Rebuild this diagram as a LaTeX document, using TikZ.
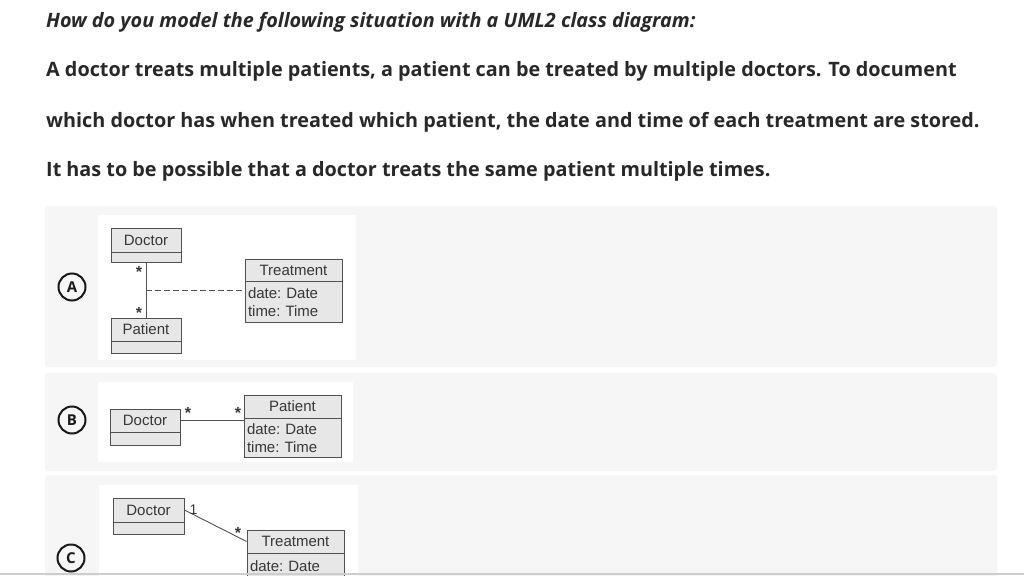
\documentclass[tikz,border=0pt]{standalone}
\usepackage{fontspec}
\setmainfont{Open Sans}
\newfontfamily\umlfont{Liberation Sans}
\usetikzlibrary{positioning,calc}
\definecolor{panelgrey}{RGB}{246,246,246}
\definecolor{rulegrey}{RGB}{205,205,205}
\definecolor{boxfill}{RGB}{231,231,231}
\definecolor{boxline}{RGB}{80,80,80}
\definecolor{textdark}{RGB}{40,40,40}
\definecolor{umltext}{RGB}{55,55,55}
\tikzstyle{question} = [anchor=base west, inner sep=0pt, font=\fontsize{19.8}{22}\selectfont\bfseries, text=textdark]
\tikzstyle{panel} = [fill=panelgrey, rounded corners=3pt]
\tikzstyle{sheet} = [fill=white]
\tikzstyle{classname} = [rectangle, draw=boxline, fill=boxfill, line width=0.9pt, inner sep=0pt, text=umltext, font=\umlfont\fontsize{15}{18}\selectfont\frenchspacing]
\tikzstyle{classattr} = [classname, inner sep=3pt, align=left]
\tikzstyle{option} = [circle, draw=black!90, line width=2pt, minimum size=27pt, inner sep=0pt, font=\fontsize{15}{15}\selectfont\bfseries, text=black!90]
\tikzstyle{mult} = [inner sep=0pt, text=umltext, font=\umlfont\bfseries\fontsize{16}{16}\selectfont]
\tikzstyle{assoc} = [draw=boxline, line width=0.9pt]

\begin{document}
\begin{tikzpicture}[x=1pt, y=-1pt]
\clip (0,0) rectangle (1024,575);
\fill[white] (0,0) rectangle (1024,575);

% Question text
\node[question, font=\fontsize{19.8}{22}\selectfont\bfseries\itshape] (q1) at (46,28) {How do you model the following situation with a UML2 class diagram:};
\node[question] (q2) at (46,77) {A doctor treats multiple patients, a patient can be treated by multiple doctors. To document};
\node[question] (q3) at (46,127) {which doctor has when treated which patient, the date and time of each treatment are stored.};
\node[question] (q4) at (46,176) {It has to be possible that a doctor treats the same patient multiple times.};

% Answer panels
\fill[panel] (45,206) rectangle (997,367);
\fill[panel] (45,373) rectangle (997,471);
\fill[panel] (45,475) rectangle (997,590);
\fill[sheet] (98,215) rectangle (356,360);
\fill[sheet] (98,382) rectangle (353,462);
\fill[sheet] (99,485) rectangle (358,590);

% Option A
\node[option] (optA) at (72,287) {A};
\node[classname, minimum width=70pt, minimum height=24pt] (docA) at (146,240) {Doctor};
\node[classname, minimum width=70pt, minimum height=10pt, below=0pt of docA] (docAattr) {};
\node[classname, minimum width=70pt, minimum height=23pt] (patA) at (146,329.5) {Patient};
\node[classname, minimum width=70pt, minimum height=12pt, below=0pt of patA] (patAattr) {};
\node[classname, minimum width=97pt, minimum height=22pt] (treatA) at (293.5,270) {Treatment};
\node[classattr, text width=91pt, minimum height=41pt, below=0pt of treatA] (treatAattr) {date: Date\\time: Time};
\draw[assoc] (docAattr.south) -- (patA.north);
\coordinate (midA) at ($(docAattr.south)!0.5!(patA.north)$);
\draw[assoc, dash pattern=on 6pt off 3pt] (midA) -- (midA -| treatAattr.west);
\node[mult] (mA1) at (139,272) {*};
\node[mult] (mA2) at (139,313) {*};

% Option B
\node[option] (optB) at (72,420) {B};
\node[classname, minimum width=70pt, minimum height=23pt] (docB) at (145,420.5) {Doctor};
\node[classname, minimum width=70pt, minimum height=13pt, below=0pt of docB] (docBattr) {};
\node[classname, minimum width=97pt, minimum height=23pt] (patB) at (292.5,406.5) {Patient};
\node[classattr, text width=91pt, minimum height=39pt, below=0pt of patB] (patBattr) {date: Date\\time: Time};
\draw[assoc] (docB.east) -- (docB.east -| patBattr.west);
\node[mult] (mB1) at (188,413) {*};
\node[mult] (mB2) at (238,413) {*};

% Option C
\node[option] (optC) at (71,558) {C};
\node[classname, minimum width=71pt, minimum height=24pt] (docC) at (148.5,510) {Doctor};
\node[classname, minimum width=71pt, minimum height=12pt, below=0pt of docC] (docCattr) {};
\node[classname, minimum width=97pt, minimum height=23pt] (treatC) at (295.5,541.5) {Treatment};
\node[classattr, text width=91pt, minimum height=24pt, below=0pt of treatC] (treatCattr) {date: Date};
\draw[assoc] (docC.east) -- (treatC.west);
\node[mult, anchor=west, font=\umlfont\fontsize{14}{14}\selectfont] (mC1) at ($(docC.east)+(5,0)$) {1};
\node[mult] (mC2) at (238,533) {*};

% Bottom rule
\draw[rulegrey, line width=2pt] (0,574) -- (1024,574);
\end{tikzpicture}
\end{document}
